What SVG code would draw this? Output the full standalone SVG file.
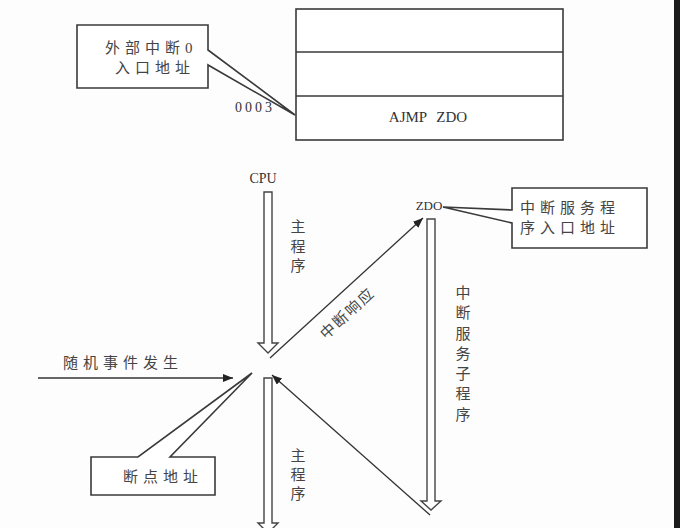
<svg xmlns="http://www.w3.org/2000/svg" width="680" height="528" viewBox="0 0 680 528">
<style>
.bx{fill:#fff;stroke:#3a3a3a;stroke-width:1.6}
.ln{fill:none;stroke:#333;stroke-width:1.3}
.ho{fill:#fff;stroke:#444;stroke-width:1.4}
.cj{font-family:"Liberation Serif","Noto Sans CJK SC",serif;font-size:15px;fill:#444;letter-spacing:5px}
.vt{font-family:"Liberation Serif","Noto Sans CJK SC",serif;font-size:15px;fill:#444;text-anchor:middle}
.lt{font-family:"Liberation Serif",serif;fill:#333}
</style>
<defs>
<marker id="ah" viewBox="0 0 10 8" refX="10" refY="4" markerWidth="10" markerHeight="8" markerUnits="userSpaceOnUse" orient="auto">
<path d="M0,0 L10,4 L0,8 Z" fill="#222"/>
</marker>
</defs>
<rect width="680" height="528" fill="#fdfdfd"/>
<rect x="674" y="0" width="6" height="528" fill="#1c1c1c"/>

<g id="table">
<rect class="bx" x="296" y="9" width="267" height="131"/>
<line class="bx" x1="296" y1="52" x2="563" y2="52"/>
<line class="bx" x1="296" y1="96" x2="563" y2="96"/>
<text class="lt" x="428" y="122" font-size="15" text-anchor="middle" word-spacing="6">AJMP ZDO</text>
</g>

<g id="callout-ext0">
<path class="bx" d="M77,25 H208 V50 L295,115 L208,65 V88 H77 Z"/>
<text class="cj" x="105" y="53">外部中断0</text>
<text class="cj" x="115" y="73">入口地址</text>
</g>

<text id="addr-0003" class="lt" x="235" y="112" font-size="14" letter-spacing="3">0003</text>

<g id="cpu">
<text class="lt" x="263" y="183" font-size="14" text-anchor="middle">CPU</text>
</g>

<g id="zdo">
<text class="lt" x="429" y="210" font-size="13" text-anchor="middle">ZDO</text>
</g>

<g id="callout-isr">
<path class="bx" d="M512,188 H647 V248 H512 V223 L443,207 L512,210 Z"/>
<text class="cj" x="520" y="213">中断服务程</text>
<text class="cj" x="520" y="233">序入口地址</text>
</g>

<g id="callout-bp">
<path class="bx" d="M91,457 H138 L252,373 L170,457 H215 V495 H91 Z"/>
<text class="cj" x="123" y="482">断点地址</text>
</g>

<g id="event">
<text class="cj" x="63" y="368">随机事件发生</text>
</g>

<g id="connectors">
<path class="ho" d="M264,192 H272 V343 H278 L268,353 L258,343 H264 Z"/>
<path class="ho" d="M427,219 H435 V501 H441 L431,510 L421,501 H427 Z"/>
<path class="ho" d="M264,378 H272 V523 H278 L268,533 L258,523 H264 Z"/>
<line class="ln" x1="270" y1="358" x2="423" y2="218" marker-end="url(#ah)"/>
<line class="ln" x1="430" y1="515" x2="272" y2="375" marker-end="url(#ah)"/>
<line class="ln" x1="38" y1="378" x2="233" y2="378" marker-end="url(#ah)"/>
</g>

<g id="labels">
<text class="vt" x="298" y="232">主</text>
<text class="vt" x="298" y="252">程</text>
<text class="vt" x="298" y="271">序</text>
<text class="vt" x="298" y="461">主</text>
<text class="vt" x="298" y="480">程</text>
<text class="vt" x="298" y="499">序</text>
<text class="vt" x="463" y="298">中</text>
<text class="vt" x="463" y="318">断</text>
<text class="vt" x="463" y="339">服</text>
<text class="vt" x="463" y="359">务</text>
<text class="vt" x="463" y="379">子</text>
<text class="vt" x="463" y="399">程</text>
<text class="vt" x="463" y="420">序</text>
<text class="vt" x="0" y="0" letter-spacing="2" transform="translate(351,317) rotate(-42.5)">中断响应</text>
</g>
</svg>
